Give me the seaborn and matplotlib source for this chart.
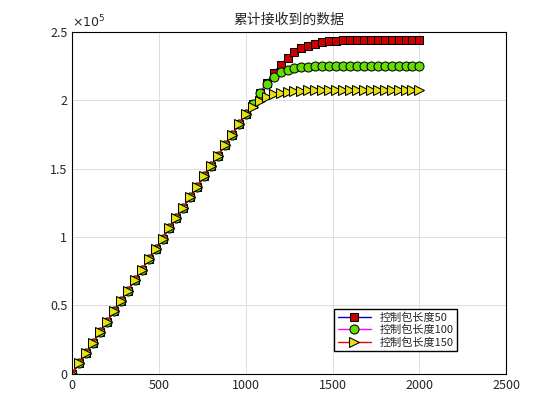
import numpy as np
import pandas as pd
import matplotlib
matplotlib.use("Agg")
import matplotlib.pyplot as plt
import matplotlib.ticker as mticker
import seaborn as sns

x = [0,40,80,120,160,200,240,280,320,360,400,440,480,520,560,600,640,680,720,760,800,840,880,920,960,1000,
     1040,1080,1120,1160,1200,1240,1280,1320,1360,1400,1440,1480,1520,1560,1600,1640,1680,1720,1760,1800,1840,1880,1920,1960,2000]
base = [0,7600,15200,22800,30400,38000,45600,53200,60800,68400,76000,83600,91200,98800,106400,114000,121600,129200,
        136800,144400,152000,159600,167200,174800,182400,190000]
tail1 = [197000,205000,213000,220000,226000,231000,235000,238000,240000,241500,242500,243000,243500,244000,244000,
         244000,244000,244000,244000,244000,244000,244000,244000,244000,244000]
tail2 = [197000,205000,212000,217000,220500,222500,223500,224000,224500,224800,225000,225000,225000,225000,225000,
         225000,225000,225000,225000,225000,225000,225000,225000,225000,225000]
tail3 = [195000,199500,202500,204500,205500,206200,206700,207000,207200,207400,207500,207600,207700,207800,207800,
         207800,207800,207800,207800,207800,207800,207800,207800,207800,207800]
labels = ["控制包长度50", "控制包长度100", "控制包长度150"]
series = [base + tail1, base + tail2, base + tail3]

sns.set_style("whitegrid")
plt.rcParams['font.family'] = ['Noto Sans CJK SC', 'DejaVu Sans']

fig = plt.figure(figsize=(5.6, 4.2), dpi=100)
ax = fig.add_axes([0.129, 0.11, 0.775, 0.814])
styles = [dict(color="#0000cc", marker="s", mfc="#cc0000", ms=5.5),
          dict(color="#ff00ff", marker="o", mfc="#66dd00", ms=6.5),
          dict(color="#ee0000", marker=">", mfc="#e8e010", ms=6.5)]
for lab, y, st in zip(labels, series, styles):
    df = pd.DataFrame({"x": x, "y": y})
    sns.lineplot(data=df, x="x", y="y", ax=ax, label=lab, color=st["color"], marker=st["marker"],
                 markerfacecolor=st["mfc"], markeredgecolor="black", markersize=st["ms"], linewidth=1)
ax.set_xlim(0, 2500)
ax.set_ylim(0, 250000)
ax.set_xticks([0, 500, 1000, 1500, 2000, 2500])
ax.set_yticks(np.arange(0, 250001, 50000))
ax.yaxis.set_major_formatter(mticker.FuncFormatter(lambda v, p: f"{v/1e5:g}"))
ax.text(0.0, 1.005, r"$\times 10^5$", transform=ax.transAxes, fontsize=9, ha="left", va="bottom",
        family="DejaVu Sans")
ax.set_xlabel(""); ax.set_ylabel("")
ax.set_title("累计接收到的数据", fontsize=10)
ax.tick_params(labelsize=9, direction="in", length=3)
ax.grid(True, color="#dddddd", linewidth=0.7)
for s in ax.spines.values():
    s.set_color("black"); s.set_linewidth(0.8)
leg = ax.legend(loc="lower right", bbox_to_anchor=(0.9, 0.05), fontsize=8, frameon=True, fancybox=False,
                edgecolor="black", framealpha=1, handlelength=3, borderpad=0.3, labelspacing=0.2)
fig.savefig("out.png", dpi=100, facecolor="white")
